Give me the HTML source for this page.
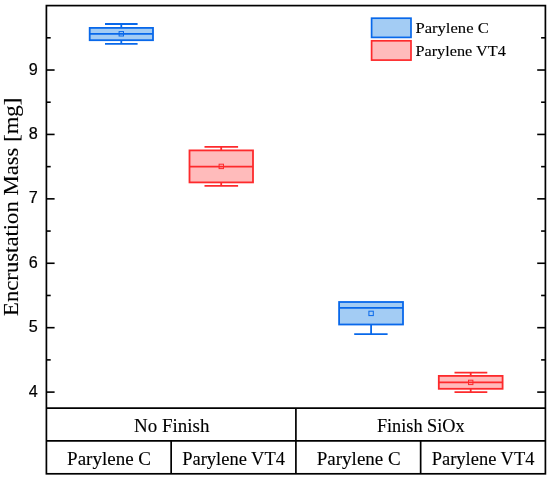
<!DOCTYPE html>
<html><head><meta charset="utf-8"><title>Encrustation Mass</title>
<style>html,body{margin:0;padding:0;background:#fff;}svg{display:block;}</style></head>
<body><svg width="550" height="479" viewBox="0 0 550 479">
<rect x="0" y="0" width="550" height="479" fill="#fff"/>
<line x1="121.3" y1="24.0" x2="121.3" y2="27.9" stroke="#0868EA" stroke-width="1.8"/>
<line x1="105.0" y1="24.0" x2="137.6" y2="24.0" stroke="#0868EA" stroke-width="1.8"/>
<line x1="121.3" y1="40.2" x2="121.3" y2="43.8" stroke="#0868EA" stroke-width="1.8"/>
<line x1="105.0" y1="43.8" x2="137.6" y2="43.8" stroke="#0868EA" stroke-width="1.8"/>
<rect x="89.7" y="27.9" width="63.3" height="12.3" fill="#A3CCF4" stroke="#0868EA" stroke-width="1.8"/>
<line x1="89.7" y1="33.9" x2="153.0" y2="33.9" stroke="#0868EA" stroke-width="1.8"/>
<rect x="119.1" y="31.6" width="4.4" height="4.4" fill="none" stroke="#0868EA" stroke-width="1"/>
<line x1="221.2" y1="146.9" x2="221.2" y2="150.4" stroke="#FD2A2C" stroke-width="1.8"/>
<line x1="204.5" y1="146.9" x2="238.1" y2="146.9" stroke="#FD2A2C" stroke-width="1.8"/>
<line x1="221.2" y1="182.4" x2="221.2" y2="185.8" stroke="#FD2A2C" stroke-width="1.8"/>
<line x1="204.5" y1="185.8" x2="238.1" y2="185.8" stroke="#FD2A2C" stroke-width="1.8"/>
<rect x="189.5" y="150.4" width="63.5" height="32.0" fill="#FFBBBB" stroke="#FD2A2C" stroke-width="1.8"/>
<line x1="189.5" y1="166.6" x2="253.0" y2="166.6" stroke="#FD2A2C" stroke-width="1.8"/>
<rect x="219.1" y="164.2" width="4.4" height="4.4" fill="none" stroke="#FD2A2C" stroke-width="1"/>
<line x1="371.1" y1="324.5" x2="371.1" y2="334.2" stroke="#0868EA" stroke-width="1.8"/>
<line x1="354.2" y1="334.2" x2="387.6" y2="334.2" stroke="#0868EA" stroke-width="1.8"/>
<rect x="339.1" y="302.0" width="63.9" height="22.5" fill="#A3CCF4" stroke="#0868EA" stroke-width="1.8"/>
<line x1="339.1" y1="307.9" x2="403.0" y2="307.9" stroke="#0868EA" stroke-width="1.8"/>
<rect x="368.9" y="311.2" width="4.4" height="4.4" fill="none" stroke="#0868EA" stroke-width="1"/>
<line x1="470.7" y1="372.7" x2="470.7" y2="375.9" stroke="#FD2A2C" stroke-width="1.8"/>
<line x1="454.5" y1="372.7" x2="487.3" y2="372.7" stroke="#FD2A2C" stroke-width="1.8"/>
<line x1="470.7" y1="388.8" x2="470.7" y2="392.2" stroke="#FD2A2C" stroke-width="1.8"/>
<line x1="454.5" y1="392.2" x2="487.3" y2="392.2" stroke="#FD2A2C" stroke-width="1.8"/>
<rect x="438.8" y="375.9" width="63.8" height="12.9" fill="#FFBBBB" stroke="#FD2A2C" stroke-width="1.8"/>
<line x1="438.8" y1="382.4" x2="502.6" y2="382.4" stroke="#FD2A2C" stroke-width="1.8"/>
<rect x="468.5" y="380.2" width="4.4" height="4.4" fill="none" stroke="#FD2A2C" stroke-width="1"/>
<line x1="46.4" y1="392.10" x2="54.599999999999994" y2="392.10" stroke="#000" stroke-width="1.6"/>
<line x1="545.4" y1="392.10" x2="537.1999999999999" y2="392.10" stroke="#000" stroke-width="1.6"/>
<text x="37.8" y="396.70" text-anchor="end" font-family="Liberation Sans, Arial, sans-serif" font-size="16.2" stroke="#000" stroke-width="0.2">4</text>
<line x1="46.4" y1="359.89" x2="50.699999999999996" y2="359.89" stroke="#000" stroke-width="1.6"/>
<line x1="545.4" y1="359.89" x2="541.1" y2="359.89" stroke="#000" stroke-width="1.6"/>
<line x1="46.4" y1="327.68" x2="54.599999999999994" y2="327.68" stroke="#000" stroke-width="1.6"/>
<line x1="545.4" y1="327.68" x2="537.1999999999999" y2="327.68" stroke="#000" stroke-width="1.6"/>
<text x="37.8" y="332.28" text-anchor="end" font-family="Liberation Sans, Arial, sans-serif" font-size="16.2" stroke="#000" stroke-width="0.2">5</text>
<line x1="46.4" y1="295.47" x2="50.699999999999996" y2="295.47" stroke="#000" stroke-width="1.6"/>
<line x1="545.4" y1="295.47" x2="541.1" y2="295.47" stroke="#000" stroke-width="1.6"/>
<line x1="46.4" y1="263.26" x2="54.599999999999994" y2="263.26" stroke="#000" stroke-width="1.6"/>
<line x1="545.4" y1="263.26" x2="537.1999999999999" y2="263.26" stroke="#000" stroke-width="1.6"/>
<text x="37.8" y="267.86" text-anchor="end" font-family="Liberation Sans, Arial, sans-serif" font-size="16.2" stroke="#000" stroke-width="0.2">6</text>
<line x1="46.4" y1="231.06" x2="50.699999999999996" y2="231.06" stroke="#000" stroke-width="1.6"/>
<line x1="545.4" y1="231.06" x2="541.1" y2="231.06" stroke="#000" stroke-width="1.6"/>
<line x1="46.4" y1="198.85" x2="54.599999999999994" y2="198.85" stroke="#000" stroke-width="1.6"/>
<line x1="545.4" y1="198.85" x2="537.1999999999999" y2="198.85" stroke="#000" stroke-width="1.6"/>
<text x="37.8" y="203.45" text-anchor="end" font-family="Liberation Sans, Arial, sans-serif" font-size="16.2" stroke="#000" stroke-width="0.2">7</text>
<line x1="46.4" y1="166.64" x2="50.699999999999996" y2="166.64" stroke="#000" stroke-width="1.6"/>
<line x1="545.4" y1="166.64" x2="541.1" y2="166.64" stroke="#000" stroke-width="1.6"/>
<line x1="46.4" y1="134.43" x2="54.599999999999994" y2="134.43" stroke="#000" stroke-width="1.6"/>
<line x1="545.4" y1="134.43" x2="537.1999999999999" y2="134.43" stroke="#000" stroke-width="1.6"/>
<text x="37.8" y="139.03" text-anchor="end" font-family="Liberation Sans, Arial, sans-serif" font-size="16.2" stroke="#000" stroke-width="0.2">8</text>
<line x1="46.4" y1="102.22" x2="50.699999999999996" y2="102.22" stroke="#000" stroke-width="1.6"/>
<line x1="545.4" y1="102.22" x2="541.1" y2="102.22" stroke="#000" stroke-width="1.6"/>
<line x1="46.4" y1="70.02" x2="54.599999999999994" y2="70.02" stroke="#000" stroke-width="1.6"/>
<line x1="545.4" y1="70.02" x2="537.1999999999999" y2="70.02" stroke="#000" stroke-width="1.6"/>
<text x="37.8" y="74.62" text-anchor="end" font-family="Liberation Sans, Arial, sans-serif" font-size="16.2" stroke="#000" stroke-width="0.2">9</text>
<line x1="46.4" y1="37.81" x2="50.699999999999996" y2="37.81" stroke="#000" stroke-width="1.6"/>
<line x1="545.4" y1="37.81" x2="541.1" y2="37.81" stroke="#000" stroke-width="1.6"/>
<rect x="46.4" y="5.6" width="499.0" height="468.2" fill="none" stroke="#000" stroke-width="1.7"/>
<line x1="46.4" y1="408.2" x2="545.4" y2="408.2" stroke="#000" stroke-width="1.7"/>
<line x1="46.4" y1="440.9" x2="545.4" y2="440.9" stroke="#000" stroke-width="1.7"/>
<line x1="295.90" y1="408.2" x2="295.90" y2="473.8" stroke="#000" stroke-width="1.7"/>
<line x1="171.15" y1="440.9" x2="171.15" y2="473.8" stroke="#000" stroke-width="1.7"/>
<line x1="420.65" y1="440.9" x2="420.65" y2="473.8" stroke="#000" stroke-width="1.7"/>
<text x="171.75" y="431.60" text-anchor="middle" font-family="Liberation Serif, Times New Roman, serif" stroke="#000" stroke-width="0.12" font-size="18.0" textLength="75.3" lengthAdjust="spacingAndGlyphs">No Finish</text>
<text x="420.75" y="431.60" text-anchor="middle" font-family="Liberation Serif, Times New Roman, serif" stroke="#000" stroke-width="0.12" font-size="18.0" textLength="87.7" lengthAdjust="spacingAndGlyphs">Finish SiOx</text>
<text x="109.05" y="464.90" text-anchor="middle" font-family="Liberation Serif, Times New Roman, serif" stroke="#000" stroke-width="0.12" font-size="18.0" textLength="83.9" lengthAdjust="spacingAndGlyphs">Parylene C</text>
<text x="233.60" y="464.90" text-anchor="middle" font-family="Liberation Serif, Times New Roman, serif" stroke="#000" stroke-width="0.12" font-size="18.0" textLength="102.7" lengthAdjust="spacingAndGlyphs">Parylene VT4</text>
<text x="358.75" y="464.90" text-anchor="middle" font-family="Liberation Serif, Times New Roman, serif" stroke="#000" stroke-width="0.12" font-size="18.0" textLength="83.9" lengthAdjust="spacingAndGlyphs">Parylene C</text>
<text x="483.10" y="464.90" text-anchor="middle" font-family="Liberation Serif, Times New Roman, serif" stroke="#000" stroke-width="0.12" font-size="18.0" textLength="102.7" lengthAdjust="spacingAndGlyphs">Parylene VT4</text>
<rect x="371.6" y="18.2" width="39.4" height="19.2" fill="#A3CCF4" stroke="#0868EA" stroke-width="1.7"/>
<rect x="371.6" y="40.8" width="39.4" height="19.3" fill="#FFBBBB" stroke="#FD2A2C" stroke-width="1.7"/>
<text x="415.40" y="33.20" text-anchor="start" font-family="Liberation Serif, Times New Roman, serif" stroke="#000" stroke-width="0.12" font-size="15.6" textLength="73.4" lengthAdjust="spacingAndGlyphs">Parylene C</text>
<text x="415.40" y="55.80" text-anchor="start" font-family="Liberation Serif, Times New Roman, serif" stroke="#000" stroke-width="0.12" font-size="15.6" textLength="90.4" lengthAdjust="spacingAndGlyphs">Parylene VT4</text>
<text transform="translate(17.7,316.0) rotate(-90)" x="0" y="0" font-family="Liberation Serif, Times New Roman, serif" stroke="#000" stroke-width="0.12" font-size="20.4" textLength="218.3" lengthAdjust="spacingAndGlyphs">Encrustation Mass [mg]</text>
</svg></body></html>
